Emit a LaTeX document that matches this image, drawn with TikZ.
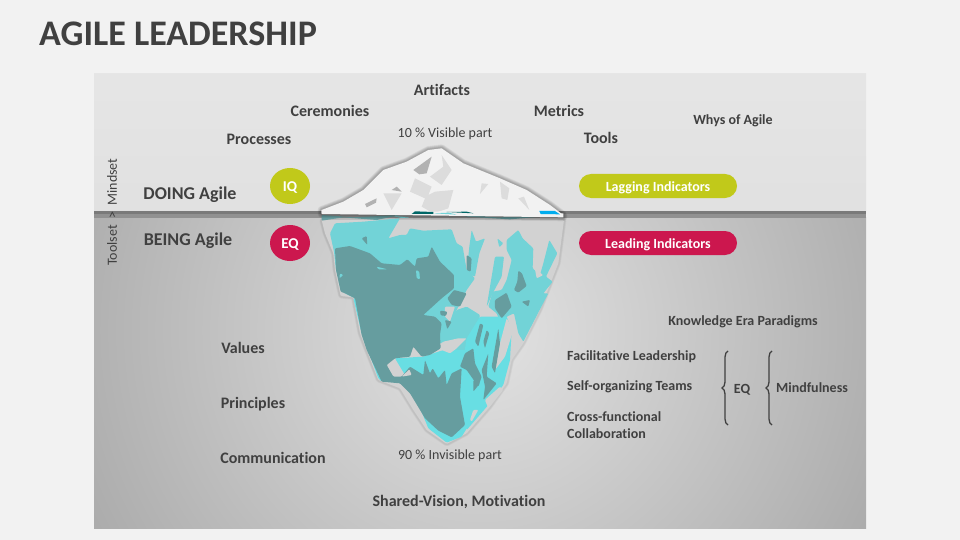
\documentclass[tikz,border=0pt]{standalone}
\usepackage{fontspec}
\setmainfont{Carlito}[Ligatures=NoCommon]
\usetikzlibrary{shapes.geometric,decorations.pathreplacing}
\definecolor{inkgrey}{HTML}{404040}
\definecolor{limeish}{HTML}{C1C91A}
\definecolor{crimson}{HTML}{CC174E}
\definecolor{icelight}{HTML}{72D3D7}
\definecolor{icebright}{HTML}{68DEE3}
\definecolor{icedark}{HTML}{669D9F}
\definecolor{icegrey}{HTML}{D2D2D2}
\definecolor{snowgrey}{HTML}{DCDCDC}
\tikzset{
  word/.style={font=\bfseries\fontsize{16}{18}\selectfont,text=inkgrey,inner sep=0pt},
  small/.style={font=\bfseries\fontsize{14}{17}\selectfont,text=inkgrey,inner sep=0pt},
  note/.style={font=\fontsize{14}{16}\selectfont,text=inkgrey,inner sep=0pt},
  big/.style={font=\bfseries\fontsize{18}{20}\selectfont,text=inkgrey,inner sep=0pt},
  badge/.style={ellipse,minimum width=40pt,minimum height=36pt,inner sep=0pt,text height=12pt,text depth=1pt,text=white,font=\bfseries\fontsize{15}{17}\selectfont},
  pill/.style={rounded corners=12pt,minimum width=158pt,minimum height=24pt,inner sep=0pt,text height=12pt,text depth=1pt,text=white,font=\bfseries\fontsize{14}{16}\selectfont},
  curly/.style={decorate,decoration={brace,amplitude=6pt},draw=inkgrey,line width=1.3pt},
  iceunder/.style={shift={(310,210)},x=.3333pt,y=-.3333pt,rounded corners=1pt},
  snowpart/.style={shift={(300,130)},x=.3333pt,y=-.3333pt}
}
\begin{document}
\begin{tikzpicture}[x=1pt,y=-1pt]
\useasboundingbox (0,0) rectangle (960,540);
\fill [black!5] (0,0) rectangle (960,540);
\node [anchor=west,inner sep=0pt,text=inkgrey,font=\bfseries\fontsize{36}{38}\selectfont] (title) at (39,34) {AGILE LEADERSHIP};
% panel
\fill [top color=black!10,bottom color=black!12] (94,74) rectangle (866,212);
\begin{scope}
\clip (94,217) rectangle (866,528);
\shade [inner color=black!11,outer color=black!36] (480,330) circle [radius=500];
\end{scope}
\fill [black!52] (94,211) rectangle (866,214);
\fill [black!43] (94,214) rectangle (866,218);
% iceberg under water
\begin{scope}[iceunder]
\def\bergoutline{(35,30) -- (45,70) -- (70,130) -- (75,180) -- (92,258) -- (130,262) -- (150,370) -- (205,510) -- (270,535) -- (310,600) -- (350,660) -- (410,702) -- (470,670) -- (540,590) -- (590,520) -- (605,450) -- (640,400) -- (690,300) -- (745,160) -- (762,30) -- cycle}
\foreach \w in {5,4,3} {
  \draw [black,opacity=.03,line width=\w pt,line join=round] \bergoutline;
}
\fill [icegrey] \bergoutline;
% cyan
\fill [icelight] (60,70) -- (75,40) -- (160,35) -- (235,28) -- (270,25) -- (235,85) -- (270,75) -- (290,75) -- (300,55) -- (340,62) -- (425,58) -- (440,100) -- (458,110) -- (470,180) -- (495,205) -- (470,240) -- (440,300) -- (395,400) -- (155,370) -- (135,265) -- (105,250) -- (78,180) -- (72,125) -- cycle;
\fill [icelight] (485,60) -- (498,95) -- (525,85) -- (508,130) -- (495,200) -- (470,190) -- (478,110) -- cycle;
\fill [icelight] (555,140) -- (582,140) -- (575,200) -- (548,250) -- (530,290) -- (540,230) -- cycle;
\fill [icelight] (625,60) -- (638,85) -- (670,115) -- (668,175) -- (690,195) -- (700,160) -- (718,90) -- (742,130) -- (708,200) -- (728,215) -- (700,250) -- (715,250) -- (690,298) -- (640,395) -- (625,370) -- (612,310) -- (590,320) -- (580,360) -- (560,310) -- (535,290) -- (548,245) -- (575,240) -- (590,210) -- (605,150) -- (590,120) -- (590,90) -- cycle;
\fill [icelight] (562,85) -- (580,100) -- (568,112) -- cycle;
\fill [icelight] (395,380) -- (440,300) -- (470,290) -- (510,315) -- (505,340) -- (480,385) -- (470,420) -- (395,420) -- cycle;
\fill [icebright] (340,440) -- (400,420) -- (470,420) -- (455,490) -- (470,560) -- (480,640) -- (455,680) -- (410,698) -- (355,655) -- (300,520) -- (255,445) -- cycle;
\fill [icebright] (130,265) -- (135,265) -- (215,515) -- (205,505) -- (155,370) -- cycle;
\fill [icebright] (455,480) -- (470,385) -- (510,320) -- (590,320) -- (605,360) -- (600,450) -- (580,525) -- (535,585) -- (470,660) -- cycle;
% grey streaks
\fill [icegrey] (362,430) -- (400,395) -- (445,385) -- (470,385) -- (440,415) -- (420,430) -- (395,420) -- cycle;
\fill [icegrey] (405,290) -- (435,290) -- (420,335) -- (405,320) -- cycle;
\fill [icegrey] (590,325) -- (610,360) -- (585,440) -- (555,480) -- (570,400) -- cycle;
\fill [icegrey] (525,570) -- (570,530) -- (580,540) -- (535,595) -- cycle;
\fill [icegrey] (480,630) -- (490,600) -- (505,600) -- (485,635) -- cycle;
\fill [icegrey] (675,178) -- (700,195) -- (680,205) -- cycle;
% dark part
\fill [icedark] (75,115) -- (120,108) -- (180,130) -- (215,160) -- (270,165) -- (292,148) -- (315,170) -- (320,145) -- (355,140) -- (365,110) -- (390,155) -- (432,195) -- (432,235) -- (395,265) -- (340,315) -- (375,320) -- (395,340) -- (390,375) -- (392,415) -- (360,435) -- (335,440) -- (310,410) -- (300,440) -- (255,445) -- (230,465) -- (250,500) -- (275,500) -- (300,470) -- (340,495) -- (345,450) -- (360,490) -- (368,475) -- (385,505) -- (405,480) -- (410,525) -- (425,490) -- (455,475) -- (450,560) -- (465,645) -- (425,682) -- (385,662) -- (345,625) -- (300,550) -- (270,520) -- (215,515) -- (170,420) -- (155,375) -- (135,265) -- (105,250) -- (92,245) -- (78,180) -- cycle;
\fill [icegrey] (275,500) -- (298,478) -- (305,495) -- cycle;
\fill [icelight] (200,170) -- (232,178) -- (205,178) -- cycle;
\fill [icelight] (318,180) -- (328,185) -- (330,208) -- (320,205) -- cycle;
\fill [icelight] (90,190) -- (100,195) -- (88,205) -- cycle;
\fill [icedark] (155,85) -- (170,78) -- (172,105) -- cycle;
\fill [icedark] (470,135) -- (485,145) -- (482,185) -- (470,180) -- cycle;
\fill [icedark] (625,182) -- (636,190) -- (650,228) -- (625,248) -- (612,240) -- (622,215) -- cycle;
\fill [icedark] (555,270) -- (590,248) -- (605,290) -- (575,325) -- (555,295) -- cycle;
\fill [icedark] (635,275) -- (660,270) -- (655,290) -- cycle;
\fill [icedark] (432,240) -- (470,250) -- (450,290) -- (425,285) -- (412,265) -- cycle;
\fill [icedark] (405,330) -- (425,335) -- (412,358) -- cycle;
\fill [icedark] (390,302) -- (412,305) -- (408,318) -- (392,316) -- cycle;
\fill [icedark] (510,340) -- (520,345) -- (505,410) -- (495,395) -- cycle;
\fill [icedark] (530,360) -- (538,370) -- (525,415) -- (520,395) -- cycle;
\fill [icedark] (565,355) -- (570,400) -- (555,490) -- (545,470) -- cycle;
\fill [icedark] (490,415) -- (495,460) -- (515,500) -- (505,530) -- (470,480) -- (450,470) -- (465,430) -- cycle;
\fill [icedark] (535,430) -- (530,500) -- (560,520) -- (520,570) -- (525,530) -- (515,480) -- cycle;
\fill [icedark] (490,510) -- (510,520) -- (490,545) -- cycle;
% band at the waterline
\fill [icedark] (35,15) -- (130,22) -- (270,15) -- (200,30) -- (100,22) -- (35,32) -- cycle;
\fill [icedark] (440,12) -- (560,22) -- (690,20) -- (600,28) -- (470,20) -- cycle;
\fill [icelight] (250,18) -- (300,22) -- (275,24) -- cycle;
\end{scope}
% iceberg above water
\begin{scope}[snowpart]
\def\snowoutline{(65,240) -- (130,215) -- (190,180) -- (250,120) -- (320,95) -- (385,60) -- (425,55) -- (490,100) -- (600,145) -- (680,180) -- (750,225) -- (790,255) -- (790,262) -- (65,252) -- cycle}
\foreach \w in {8,7,6,5,4,3,2} {
  \draw [black,opacity=.045,line width=\w pt,line join=round] \snowoutline;
}
\fill [black!5] \snowoutline;
\fill [snowgrey] (345,145) -- (395,170) -- (385,195) -- (405,185) -- (460,180) -- (445,235) -- (400,250) -- (365,230) -- (375,205) -- (330,185) -- cycle;
\fill [snowgrey] (425,75) -- (455,120) -- (425,165) -- (390,140) -- (430,110) -- cycle;
\fill [snowgrey] (250,190) -- (305,190) -- (275,240) -- (260,210) -- cycle;
\fill [snowgrey] (545,160) -- (565,162) -- (540,192) -- cycle;
\fill [snowgrey] (600,155) -- (628,175) -- (622,210) -- (605,205) -- cycle;
\fill [snowgrey] (655,205) -- (672,200) -- (688,240) -- cycle;
\fill [black!30] (340,120) -- (395,80) -- (380,130) -- (358,133) -- cycle;
\fill [black!30] (275,180) -- (290,170) -- (305,185) -- cycle;
\fill [black!30] (195,222) -- (230,205) -- (228,218) -- (200,232) -- cycle;
\fill [black!5] (65,240) -- (790,250) -- (790,255) -- (65,250) -- cycle;
\fill [teal!80!black] (335,252) -- (345,244) -- (400,246) -- (400,252) -- cycle;
\fill [teal!80!black] (440,246) -- (500,245) -- (520,250) -- cycle;
\fill [cyan] (718,243) -- (765,243) -- (780,253) -- (722,252) -- cycle;
\fill [icelight] (400,250) -- (445,248) -- (470,254) -- cycle;
\end{scope}
% labels
\node [word] (artifacts) at (442,90) {Artifacts};
\node [word] (ceremonies) at (330,111) {Ceremonies};
\node [word] (metrics) at (559,111) {Metrics};
\node [word] (processes) at (259,139) {Processes};
\node [word] (tools) at (601,138) {Tools};
\node [small] (whys) at (733,121) {Whys of Agile};
\node [note] (visible) at (445,134) {10 \% Visible part};
\node [big] (doing) at (190,195) {DOING Agile};
\node [big] (being) at (188,241) {BEING Agile};
\node [note,rotate=90] (toolset) at (112,212) {Toolset \ > \ Mindset};
\node [badge,fill=limeish] (iq) at (290,186) {IQ};
\node [badge,fill=crimson] (eq) at (290,243) {EQ};
\node [pill,fill=limeish] (lagging) at (658,186) {Lagging Indicators};
\node [pill,fill=crimson] (leading) at (658,243) {Leading Indicators};
\node [word] (values) at (243,348) {Values};
\node [word] (principles) at (253,404) {Principles};
\node [word] (communication) at (273,458) {Communication};
\node [note] (invisible) at (450,456) {90 \% Invisible part};
\node [word] (shared) at (459,502) {Shared-Vision, Motivation};
\node [small] (paradigms) at (743,322) {Knowledge Era Paradigms};
\node [small,anchor=west] (facilitative) at (567,357) {Facilitative Leadership};
\node [small,anchor=west] (selforg) at (567,387) {Self-organizing Teams};
\node [small,anchor=west,align=left] (cross) at (567,425) {Cross-functional\\Collaboration};
\node [small] (eqtext) at (742,390) {EQ};
\node [small] (mindful) at (812,388) {Mindfulness};
\draw [curly] (728,425) -- (728,351);
\draw [curly] (772,425) -- (772,351);
\end{tikzpicture}
\end{document}
